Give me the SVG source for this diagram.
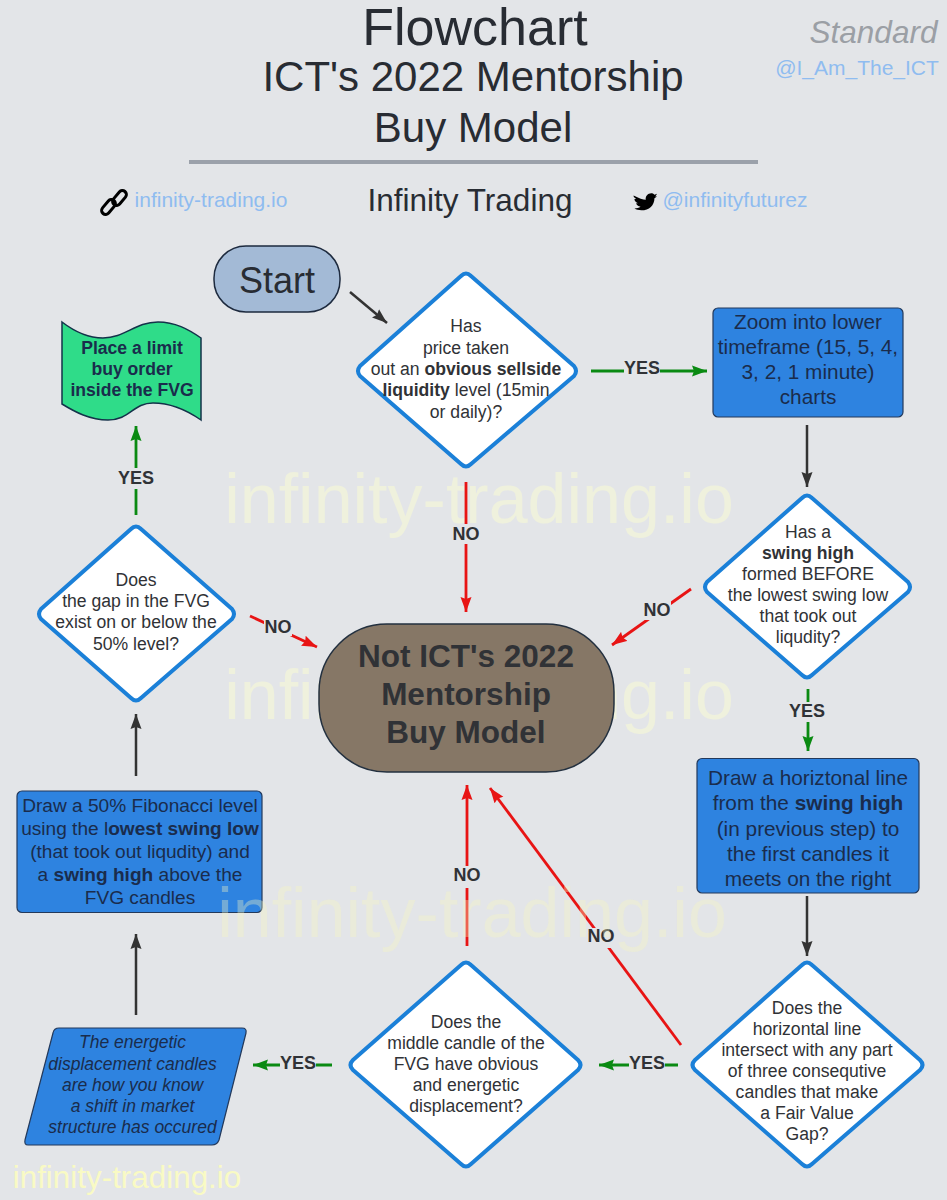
<svg xmlns="http://www.w3.org/2000/svg" width="947" height="1200" viewBox="0 0 947 1200">
<style>
text{font-family:"Liberation Sans",Arial,sans-serif;text-anchor:middle;fill:#303236}
.t{font-size:17.6px}
.b{font-weight:700}
.h{font-size:42px;fill:#282c33}
.wm{font-size:70px;fill:#eff1dd}
.lnk{font-size:21px;fill:#8fbcf0}
.lab{font-size:18px;font-weight:700}
.dia{fill:#fff;stroke:#1b80d8;stroke-width:4;stroke-linejoin:round}
.box{fill:#2e83e0;stroke:#23395b;stroke-width:1.2}
.box text,.nav{fill:#1a2c4c}
.box20{font-size:20.8px}
.k{stroke:#333;stroke-width:2.5;fill:none}
.r{stroke:#e81414;stroke-width:2.8;fill:none}
.g{stroke:#0a8a12;stroke-width:2.8;fill:none}
.bg{fill:#e3e5e8}
</style>
<defs>
<marker id="ak" markerUnits="userSpaceOnUse" markerWidth="16" markerHeight="12" refX="15" refY="6" orient="auto"><path d="M0 .5L15 6L0 11.5L2 6Z" fill="#333"/></marker>
<marker id="ar" markerUnits="userSpaceOnUse" markerWidth="16" markerHeight="12" refX="15" refY="6" orient="auto"><path d="M0 .5L15 6L0 11.5L2 6Z" fill="#e81414"/></marker>
<marker id="ag" markerUnits="userSpaceOnUse" markerWidth="16" markerHeight="12" refX="15" refY="6" orient="auto"><path d="M0 .5L15 6L0 11.5L2 6Z" fill="#0a8a12"/></marker>
</defs>
<rect width="947" height="1200" fill="#e3e5e8"/>
<g id="watermarks">
<text class="wm" x="479" y="523">infinity-trading.io</text>
<text class="wm" x="479" y="719">infinity-trading.io</text>
<text x="127" y="1188" style="font-size:31.4px;fill:#f9fac4">infinity-trading.io</text>
</g>
<g id="header">
<text x="475" y="45" style="font-size:52px;fill:#282c33">Flowchart</text>
<text class="h" x="473" y="91">ICT's 2022 Mentorship</text>
<text class="h" x="473" y="142">Buy Model</text>
<rect x="189" y="160" width="569" height="4" fill="#9ba1aa"/>
<text x="470" y="211" style="font-size:31.5px;fill:#282c33">Infinity Trading</text>
<text x="873.500" y="43" style="font-size:31.500px;font-style:italic;fill:#9b9fa5">Standard</text>
<text class="lnk" x="857" y="75">@I_Am_The_ICT</text>
<text class="lnk" x="211" y="207">infinity-trading.io</text>
<text class="lnk" x="735" y="207">@infinityfuturez</text>
<g fill="none" stroke="#000" stroke-width="3">
<rect x="100" y="203" width="17" height="8" rx="4" transform="rotate(-50 108.500 207)"/>
<rect x="111" y="194" width="17" height="8" rx="4" transform="rotate(-50 119.500 198)"/>
</g>
<path transform="translate(82 25) scale(.87)" d="M634 196C640 199 645 201 648 201C647 195 654 191 658 195L661 194L659 197L661 197L658 199C658 207 652 213 643 213C640 213 637 212 635 211C638 211 640 210 642 209C638 208 637 206 637 205L639 205C636 203 635 202 635 200L637 200C634 198 634 197 634 196Z" fill="#000"/>
</g>
<g id="connectors">
<line class="k" x1="350" y1="292" x2="387" y2="323" marker-end="url(#ak)"/>
<line class="g" x1="591" y1="371" x2="707" y2="371" marker-end="url(#ag)"/>
<line class="k" x1="807" y1="425" x2="807" y2="487" marker-end="url(#ak)"/>
<line class="r" x1="466" y1="482" x2="466" y2="612" marker-end="url(#ar)"/>
<line class="r" x1="691" y1="589" x2="612" y2="645" marker-end="url(#ar)"/>
<line class="g" x1="808" y1="689" x2="808" y2="751" marker-end="url(#ag)"/>
<line class="k" x1="807" y1="896" x2="807" y2="956" marker-end="url(#ak)"/>
<line class="g" x1="678" y1="1065" x2="599" y2="1065" marker-end="url(#ag)"/>
<line class="r" x1="681" y1="1045" x2="490" y2="788" marker-end="url(#ar)"/>
<line class="r" x1="467" y1="946" x2="467" y2="785" marker-end="url(#ar)"/>
<line class="g" x1="332" y1="1065" x2="253" y2="1065" marker-end="url(#ag)"/>
<line class="k" x1="136" y1="1015" x2="136" y2="934" marker-end="url(#ak)"/>
<line class="k" x1="136" y1="776" x2="136" y2="714" marker-end="url(#ak)"/>
<line class="r" x1="250" y1="616" x2="317" y2="647" marker-end="url(#ar)"/>
<line class="g" x1="136" y1="515" x2="136" y2="426" marker-end="url(#ag)"/>
</g>
<g id="edge-labels">
<rect class="bg" x="624" y="360" width="36" height="18"/><text class="lab" x="642" y="374">YES</text>
<rect class="bg" x="452" y="524" width="28" height="20"/><text class="lab" x="466" y="540">NO</text>
<rect class="bg" x="643" y="600" width="28" height="20"/><text class="lab" x="657" y="616">NO</text>
<rect class="bg" x="790" y="702" width="36" height="20"/><text class="lab" x="807" y="717">YES</text>
<rect class="bg" x="264" y="618" width="28" height="18"/><text class="lab" x="278" y="633">NO</text>
<rect class="bg" x="118" y="468" width="36" height="21"/><text class="lab" x="136" y="484">YES</text>
<rect class="bg" x="453" y="866" width="28" height="22"/><text class="lab" x="467" y="881">NO</text>
<rect class="bg" x="587" y="928" width="28" height="20"/><text class="lab" x="601" y="942">NO</text>
<rect class="bg" x="629" y="1054" width="36" height="18"/><text class="lab" x="647" y="1069">YES</text>
<rect class="bg" x="280" y="1054" width="36" height="18"/><text class="lab" x="298" y="1069">YES</text>
</g>
<g id="start">
<rect x="214" y="246" width="126" height="66" rx="32" fill="#a3bad6" stroke="#1d2a3e" stroke-width="1.5"/>
<text x="277" y="293" style="font-size:36px;fill:#282c33">Start</text>
</g>
<g id="d-sellside">
<path class="dia" d="M461 276Q466 271 471 276L574 366Q578 371 574 376L471 464Q466 469 461 464L360 376Q356 371 360 366Z"/>
<text class="t" x="466" y="332">Has</text>
<text class="t" x="466" y="354">price taken</text>
<text class="t" x="466" y="375">out an <tspan class="b">obvious sellside</tspan></text>
<text class="t" x="466" y="396"><tspan class="b">liquidity</tspan> level (15min</text>
<text class="t" x="466" y="418">or daily)?</text>
</g>
<g id="zoom" class="box">
<rect x="713" y="308" width="190" height="109" rx="5"/>
<text class="box20" stroke="none" x="808" y="329">Zoom into lower</text>
<text class="box20" stroke="none" x="808" y="354">timeframe (15, 5, 4,</text>
<text class="box20" stroke="none" x="808" y="379">3, 2, 1 minute)</text>
<text class="box20" stroke="none" x="808" y="404">charts</text>
</g>
<g id="d-swing-high">
<path class="dia" d="M802 498Q807 493 812 498L908 582Q912 587 908 592L812 675Q807 680 802 675L707 592Q703 587 707 582Z"/>
<text class="t" x="808" y="538">Has a</text>
<text class="t b" x="808" y="559">swing high</text>
<text class="t" x="808" y="580">formed BEFORE</text>
<text class="t" x="808" y="601">the lowest swing low</text>
<text class="t" x="808" y="622">that took out</text>
<text class="t" x="808" y="643">liqudity?</text>
</g>
<g id="not-model">
<rect x="319" y="624" width="295" height="148" rx="68" fill="#867766" stroke="#23303f" stroke-width="1.5"/>
<text x="466" y="667" style="font-size:31.5px;font-weight:700">Not ICT's 2022</text>
<text x="466" y="705" style="font-size:31.5px;font-weight:700">Mentorship</text>
<text x="466" y="743" style="font-size:31.5px;font-weight:700">Buy Model</text>
</g>
<g id="limit-order">
<path d="M62 322C75 332 90 338 103 338C125 338 135 322 158 322C175 322 188 329 201 338V420C188 411 172 403 153 403C133 403 130 420 108 420C90 420 75 412 62 404Z" fill="#2fdc89" stroke="#14324a" stroke-width="1.5"/>
<text class="t b nav" x="132" y="354">Place a limit</text>
<text class="t b nav" x="132" y="375">buy order</text>
<text class="t b nav" x="132" y="396">inside the FVG</text>
</g>
<g id="d-gap">
<path class="dia" d="M131 529Q136 524 141 529L232 609Q236 614 232 619L141 698Q136 703 131 698L41 619Q37 614 41 609Z"/>
<text class="t" x="136" y="586">Does</text>
<text class="t" x="136" y="607">the gap in the FVG</text>
<text class="t" x="136" y="628">exist on or below the</text>
<text class="t" x="136" y="650">50% level?</text>
</g>
<g id="draw-line" class="box">
<rect x="697" y="758.500" width="222" height="134.500" rx="5"/>
<text class="box20" stroke="none" x="808" y="785">Draw a horiztonal line</text>
<text class="box20" stroke="none" x="808" y="810">from the <tspan class="b">swing high</tspan></text>
<text class="box20" stroke="none" x="808" y="836">(in previous step) to</text>
<text class="box20" stroke="none" x="808" y="861">the first candles it</text>
<text class="box20" stroke="none" x="808" y="886">meets on the right</text>
</g>
<g id="fib" class="box">
<rect x="17" y="791" width="245" height="121.500" rx="5"/>
<text stroke="none" x="140" y="812" style="font-size:19.1px">Draw a 50% Fibonacci level</text>
<text stroke="none" x="140" y="835" style="font-size:19.1px">using the l<tspan class="b">owest swing low</tspan></text>
<text stroke="none" x="140" y="858" style="font-size:19.1px">(that took out liqudity) and</text>
<text stroke="none" x="140" y="881" style="font-size:19.1px">a <tspan class="b">swing high</tspan> above the</text>
<text stroke="none" x="140" y="904" style="font-size:19.1px">FVG candles</text>
</g>
<g id="d-intersect">
<path class="dia" d="M802 965Q807 960 812 965L920 1060Q925 1065 920 1070L812 1164Q807 1169 802 1164L695 1070Q690 1065 695 1060Z"/>
<text class="t" x="807" y="1014">Does the</text>
<text class="t" x="807" y="1035">horizontal line</text>
<text class="t" x="807" y="1056">intersect with any part</text>
<text class="t" x="807" y="1077">of three consequtive</text>
<text class="t" x="807" y="1098">candles that make</text>
<text class="t" x="807" y="1119">a Fair Value</text>
<text class="t" x="807" y="1140">Gap?</text>
</g>
<g id="d-middle">
<path class="dia" d="M461 965Q466 960 471 965L578 1060Q583 1065 578 1070L471 1164Q466 1169 461 1164L353 1070Q348 1065 353 1060Z"/>
<text class="t" x="466" y="1028">Does the</text>
<text class="t" x="466" y="1049">middle candle of the</text>
<text class="t" x="466" y="1070">FVG have obvious</text>
<text class="t" x="466" y="1091">and energetic</text>
<text class="t" x="466" y="1112">displacement?</text>
</g>
<g id="displacement">
<path d="M59 1028H242Q247 1028 246 1033L219 1140Q217 1145 212 1145H28Q24 1145 25 1140L53 1033Q54 1028 59 1028Z" fill="#2e83e0" stroke="#23395b" stroke-width="1.2"/>
<g style="font-style:italic;font-size:17.5px">
<text class="nav" x="132.500" y="1048">The energetic</text>
<text class="nav" x="132.500" y="1070">displacement candles</text>
<text class="nav" x="132.500" y="1091">are how you know</text>
<text class="nav" x="132.500" y="1112">a shift in market</text>
<text class="nav" x="132.500" y="1133">structure has occured</text>
</g>
</g>
<text id="watermark-over" x="472" y="937" style="font-size:70px;fill:#f5f5c0;fill-opacity:.35">infinity-trading.io</text>
</svg>
